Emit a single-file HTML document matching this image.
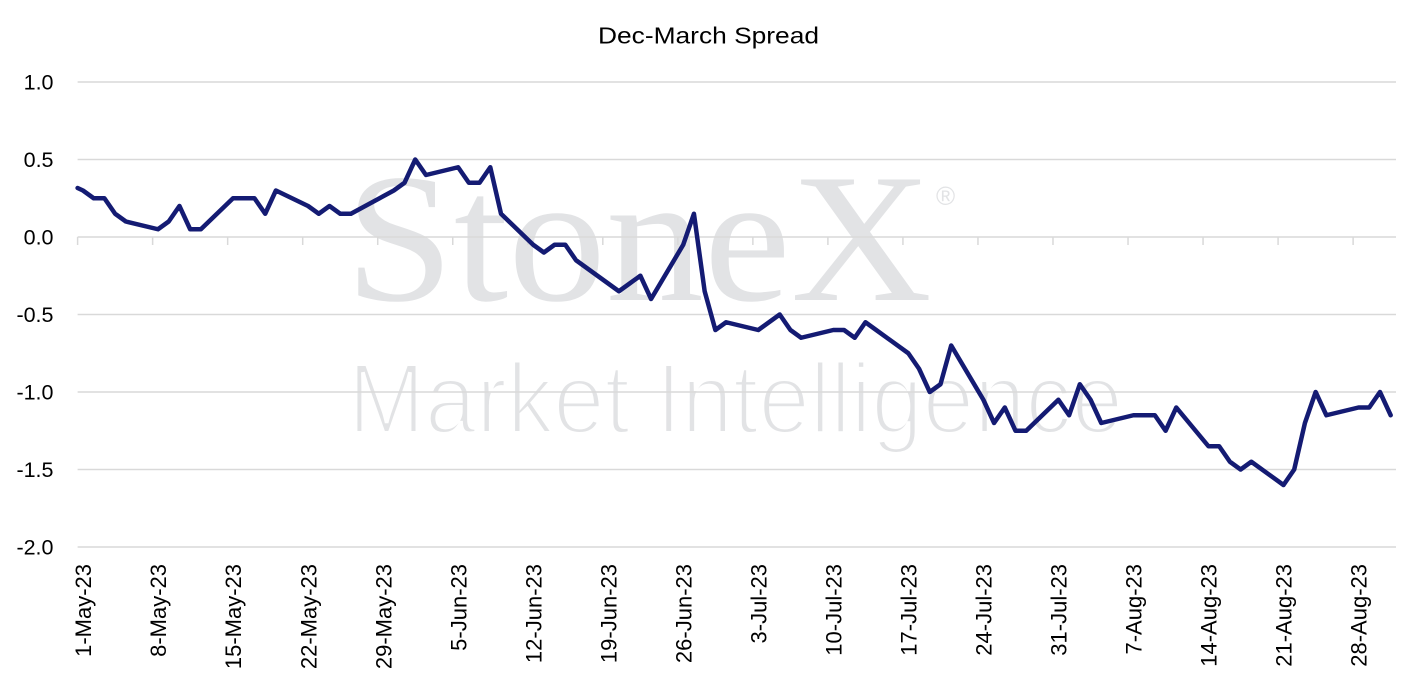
<!DOCTYPE html>
<html>
<head>
<meta charset="utf-8">
<style>
  html, body { margin: 0; padding: 0; background: #ffffff; }
  body { width: 1418px; height: 688px; overflow: hidden; }
  svg { display: block; }
  text { font-family: "Liberation Sans", Arial, sans-serif; }
</style>
</head>
<body>
<svg width="1418" height="688" viewBox="0 0 1418 688" xmlns="http://www.w3.org/2000/svg">
  <rect x="0" y="0" width="1418" height="688" fill="#ffffff"/>

  <!-- Watermark -->
  <text x="345" y="300" font-size="184" fill="#e2e3e5" textLength="587" lengthAdjust="spacingAndGlyphs" style="font-family:'Liberation Serif','Times New Roman',serif">StoneX</text>
  <text x="936" y="205" font-size="26" fill="#e2e3e5">®</text>
  <text x="348" y="433" font-size="100" fill="#e2e3e5" stroke="#ffffff" stroke-width="4" paint-order="fill stroke" textLength="775" lengthAdjust="spacingAndGlyphs">Market Intelligence</text>

  <!-- Title -->
  <text x="708.5" y="43.5" font-size="23" fill="#000" text-anchor="middle" textLength="221" lengthAdjust="spacingAndGlyphs">Dec-March Spread</text>

  <!-- Gridlines -->
  <g stroke="#d9d9d9" stroke-width="1.5" fill="none">
    <line x1="77.6" y1="82" x2="1396" y2="82"/>
    <line x1="77.6" y1="159.5" x2="1396" y2="159.5"/>
    <line x1="77.6" y1="237" x2="1396" y2="237"/>
    <line x1="77.6" y1="314.5" x2="1396" y2="314.5"/>
    <line x1="77.6" y1="392" x2="1396" y2="392"/>
    <line x1="77.6" y1="469.5" x2="1396" y2="469.5"/>
    <line x1="77.6" y1="547" x2="1396" y2="547"/>
  </g>

  <!-- Tick marks on the zero axis -->
  <g stroke="#d9d9d9" stroke-width="1.5">
    <line x1="77.6" y1="237" x2="77.6" y2="245"/>
    <line x1="152.63" y1="237" x2="152.63" y2="245"/>
    <line x1="227.66" y1="237" x2="227.66" y2="245"/>
    <line x1="302.69" y1="237" x2="302.69" y2="245"/>
    <line x1="377.72" y1="237" x2="377.72" y2="245"/>
    <line x1="452.75" y1="237" x2="452.75" y2="245"/>
    <line x1="527.78" y1="237" x2="527.78" y2="245"/>
    <line x1="602.81" y1="237" x2="602.81" y2="245"/>
    <line x1="677.84" y1="237" x2="677.84" y2="245"/>
    <line x1="752.87" y1="237" x2="752.87" y2="245"/>
    <line x1="827.9" y1="237" x2="827.9" y2="245"/>
    <line x1="902.93" y1="237" x2="902.93" y2="245"/>
    <line x1="977.96" y1="237" x2="977.96" y2="245"/>
    <line x1="1052.99" y1="237" x2="1052.99" y2="245"/>
    <line x1="1128.02" y1="237" x2="1128.02" y2="245"/>
    <line x1="1203.05" y1="237" x2="1203.05" y2="245"/>
    <line x1="1278.08" y1="237" x2="1278.08" y2="245"/>
    <line x1="1353.11" y1="237" x2="1353.11" y2="245"/>
  </g>

  <!-- Y axis labels -->
  <g font-size="21.5" fill="#000" text-anchor="end">
    <text x="53.5" y="89.5">1.0</text>
    <text x="53.5" y="167">0.5</text>
    <text x="53.5" y="244.5">0.0</text>
    <text x="53.5" y="322">-0.5</text>
    <text x="53.5" y="399.5">-1.0</text>
    <text x="53.5" y="477">-1.5</text>
    <text x="53.5" y="554.5">-2.0</text>
  </g>

  <!-- X axis labels (rotated) -->
  <g font-size="22" fill="#000" text-anchor="end">
    <text transform="translate(91.2,564) rotate(-90)">1-May-23</text>
    <text transform="translate(166.2,564) rotate(-90)">8-May-23</text>
    <text transform="translate(241.2,564) rotate(-90)">15-May-23</text>
    <text transform="translate(316.3,564) rotate(-90)">22-May-23</text>
    <text transform="translate(391.3,564) rotate(-90)">29-May-23</text>
    <text transform="translate(466.3,564) rotate(-90)">5-Jun-23</text>
    <text transform="translate(541.4,564) rotate(-90)">12-Jun-23</text>
    <text transform="translate(616.4,564) rotate(-90)">19-Jun-23</text>
    <text transform="translate(691.4,564) rotate(-90)">26-Jun-23</text>
    <text transform="translate(766.4,564) rotate(-90)">3-Jul-23</text>
    <text transform="translate(841.5,564) rotate(-90)">10-Jul-23</text>
    <text transform="translate(916.5,564) rotate(-90)">17-Jul-23</text>
    <text transform="translate(991.5,564) rotate(-90)">24-Jul-23</text>
    <text transform="translate(1066.6,564) rotate(-90)">31-Jul-23</text>
    <text transform="translate(1141.6,564) rotate(-90)">7-Aug-23</text>
    <text transform="translate(1216.6,564) rotate(-90)">14-Aug-23</text>
    <text transform="translate(1291.7,564) rotate(-90)">21-Aug-23</text>
    <text transform="translate(1366.7,564) rotate(-90)">28-Aug-23</text>
  </g>

  <!-- Series -->
  <polyline fill="none" stroke="#141b73" stroke-width="4.5" stroke-linejoin="round" stroke-linecap="round"
    points="77.6,188 82.96,190.5 93.68,198.25 104.4,198.25 115.12,213.75 125.84,221.5 157.99,229.25 168.71,221.5 179.43,206 190.15,229.25 200.87,229.25 233.03,198.25 243.74,198.25 254.46,198.25 265.18,213.75 275.9,190.5 308.06,206 318.78,213.75 329.5,206 340.22,213.75 350.94,213.75 393.81,190.5 404.53,182.75 415.25,159.5 425.97,175 458.13,167.25 468.84,182.75 479.56,182.75 490.28,167.25 501,213.75 533.16,244.75 543.88,252.5 554.6,244.75 565.31,244.75 576.03,260.25 618.91,291.25 629.63,283.5 640.35,275.75 651.07,299 683.22,244.75 693.94,213.75 704.66,291.25 715.38,330 726.1,322.25 758.26,330 779.7,314.5 790.41,330 801.13,337.75 833.29,330 844.01,330 854.73,337.75 865.45,322.25 876.17,330 908.32,353.25 919.04,368.75 929.76,392 940.48,384.25 951.2,345.5 983.36,399.75 994.08,423 1004.79,407.5 1015.51,430.75 1026.23,430.75 1058.39,399.75 1069.11,415.25 1079.83,384.25 1090.55,399.75 1101.27,423 1133.42,415.25 1144.14,415.25 1154.86,415.25 1165.58,430.75 1176.3,407.5 1208.46,446.25 1219.18,446.25 1229.89,461.75 1240.61,469.5 1251.33,461.75 1283.49,485 1294.21,469.5 1304.93,423 1315.65,392 1326.36,415.25 1358.52,407.5 1369.24,407.5 1379.96,392 1390.68,415.25"/>
</svg>
</body>
</html>
